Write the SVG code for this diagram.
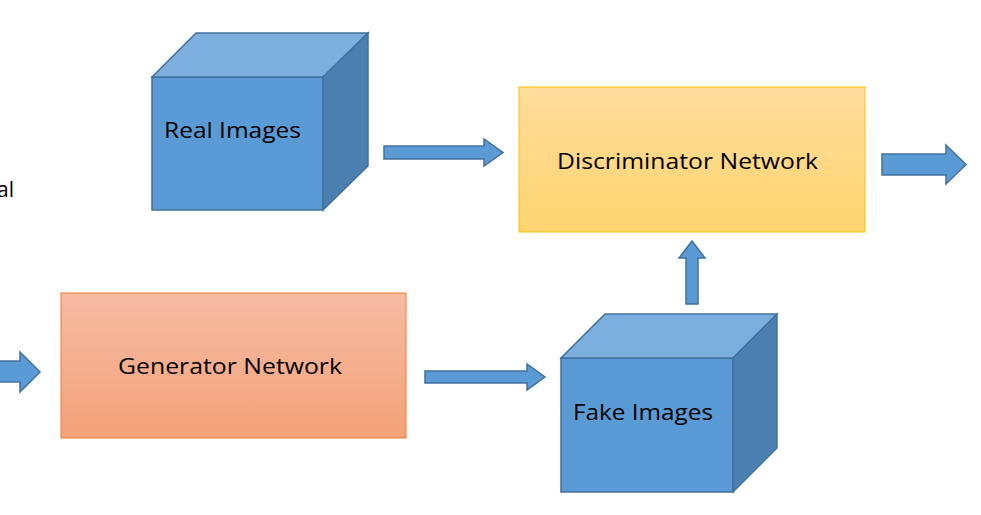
<svg xmlns="http://www.w3.org/2000/svg" width="981" height="515" viewBox="0 0 981 515">
<style>
text{font-family:"Open Sans","Liberation Sans",sans-serif;font-size:21px;fill:#000}
.arr{fill:#5b9bd5;stroke:#41719c;stroke-width:1.5}
.front{fill:#5b9bd5;stroke:#41719c;stroke-width:1.5}
.top{fill:#7cafde;stroke:#41719c;stroke-width:1.5}
.side{fill:#4a7fb0;stroke:#41719c;stroke-width:1.5}
</style>
<defs>
<linearGradient id="gd" x1="0" y1="0" x2="0" y2="1"><stop offset="0" stop-color="#fedc9c"/><stop offset="1" stop-color="#ffd570"/></linearGradient>
<linearGradient id="gg" x1="0" y1="0" x2="0" y2="1"><stop offset="0" stop-color="#f5bba3"/><stop offset="1" stop-color="#f4a27a"/></linearGradient>
</defs>
<rect width="981" height="515" fill="#fff"/>
<text x="-3" y="197">al</text>
<g id="real">
<polygon class="front" points="152,77 323,77 323,210 152,210"/>
<polygon class="top" points="152,77 196,33 368,33 323,77"/>
<polygon class="side" points="323,77 368,33 368,166 323,210"/>
<text x="164" y="138" textLength="137" lengthAdjust="spacingAndGlyphs">Real Images</text>
</g>
<g id="fake">
<polygon class="front" points="561,358 733,358 733,492 561,492"/>
<polygon class="top" points="561,358 605,314 777,314 733,358"/>
<polygon class="side" points="733,358 777,314 777,448 733,492"/>
<text x="573" y="420" textLength="140" lengthAdjust="spacingAndGlyphs">Fake Images</text>
</g>
<g id="disc">
<rect x="519" y="87" width="346" height="145" fill="url(#gd)" stroke="#ffc000" stroke-width="1"/>
<text x="557" y="169" textLength="261" lengthAdjust="spacingAndGlyphs">Discriminator Network</text>
</g>
<g id="gen">
<rect x="61" y="293" width="345" height="145" fill="url(#gg)" stroke="#ed7d31" stroke-width="1"/>
<text x="118" y="374" textLength="224" lengthAdjust="spacingAndGlyphs">Generator Network</text>
</g>
<g id="connectors">
<polygon class="arr" points="-5,361 20,361 20,352 40,372 20,392 20,382 -5,382"/>
<polygon class="arr" points="384,146 484,146 484,139 503,152.5 484,166 484,159 384,159"/>
<polygon class="arr" points="425,371 527,371 527,364 545,377 527,390 527,383 425,383"/>
<polygon class="arr" points="686,304 686,258 679,258 692,241 705,258 698,258 698,304"/>
<polygon class="arr" points="882,154 946,154 946,145 966,164.5 946,184 946,175 882,175"/>
</g>
</svg>
